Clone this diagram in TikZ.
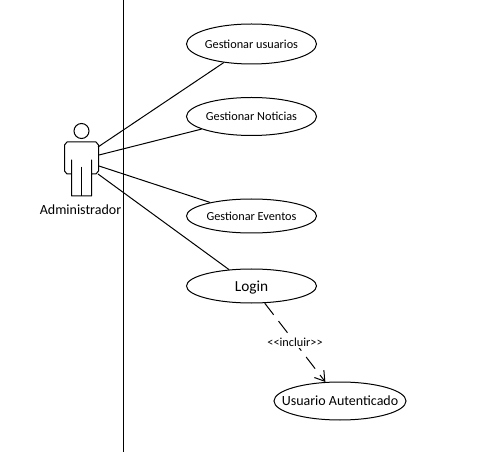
\documentclass[tikz,border=0pt]{standalone}
\usepackage{fontspec}
\setmainfont{Carlito}
\usetikzlibrary{shapes.geometric,arrows.meta}
\newcommand{\uctext}[1]{\makebox[0pt]{\raisebox{-0.34em}[0pt][0pt]{#1}}}
\begin{document}
\begin{tikzpicture}[x=0.75pt,y=-0.75pt,
  usecase/.style={draw=black,ellipse,inner sep=0pt,minimum width=130*0.75pt,line width=0.75pt,fill=white},
  small/.style={font=\fontsize{9.2pt}{11pt}\selectfont},
  big/.style={font=\fontsize{10.5pt}{13pt}\selectfont},
  link/.style={draw=black,line width=0.75pt},
  actorline/.style={draw=black,line width=0.75pt,line join=round}]
\useasboundingbox (0,0) rectangle (496,452);
\fill[white] (0,0) rectangle (496,452);
\coordinate (top) at (123.5,0);
\coordinate (bottom) at (123.5,452);
\draw[link] (top) -- (bottom);
\node[usecase,small,minimum height=40*0.75pt] (uc1) at (251.5,44) {\uctext{Gestionar usuarios}};
\node[usecase,small,minimum height=38*0.75pt] (uc2) at (251.5,116.5) {\uctext{Gestionar Noticias}};
\node[usecase,small,minimum height=34*0.75pt] (uc3) at (251.5,216) {\uctext{Gestionar Eventos}};
\node[usecase,font=\fontsize{11.5pt}{13pt}\selectfont,minimum height=34*0.75pt] (uc4) at (251.5,286) {\uctext{Login}};
\node[usecase,big,minimum width=132*0.75pt,minimum height=38*0.75pt] (uc5) at (340,401) {\uctext{Usuario Autenticado}};
\node[draw=black,circle,line width=0.75pt,minimum size=15*0.75pt,inner sep=0pt] (head) at (81.5,131) {};
\draw[actorline] (67,142) -- (96,142) -- (98.5,145) -- (98.5,171) -- (96,174) -- (91.7,174)
  -- (91.7,160) -- (91.7,196) -- (71.7,196) -- (71.7,160) -- (71.7,174) -- (67,174) -- (64.5,171) -- (64.5,145) -- cycle;
\draw[actorline] (81.7,166.7) -- (81.7,196);
\node[font=\fontsize{10.5pt}{13pt}\selectfont,inner sep=0pt] (lbl) at (80.5,209.5) {Administrador};
\coordinate (a1) at (98,147);
\coordinate (a2) at (99,155);
\coordinate (a3) at (99,166);
\coordinate (a4) at (98,174);
\draw[link] (a1) -- (uc1);
\draw[link] (a2) -- (uc2);
\draw[link] (a3) -- (uc3);
\draw[link] (a4) -- (uc4);
\draw[link,dash pattern=on 11pt off 6pt,-{Straight Barb[length=7pt,width=9pt]}] (uc4) -- (uc5)
  node[pos=0.5,fill=white,inner sep=1pt,font=\fontsize{9.2pt}{10pt}\selectfont] (inc) {<{}<incluir>{}>};
\end{tikzpicture}
\end{document}
